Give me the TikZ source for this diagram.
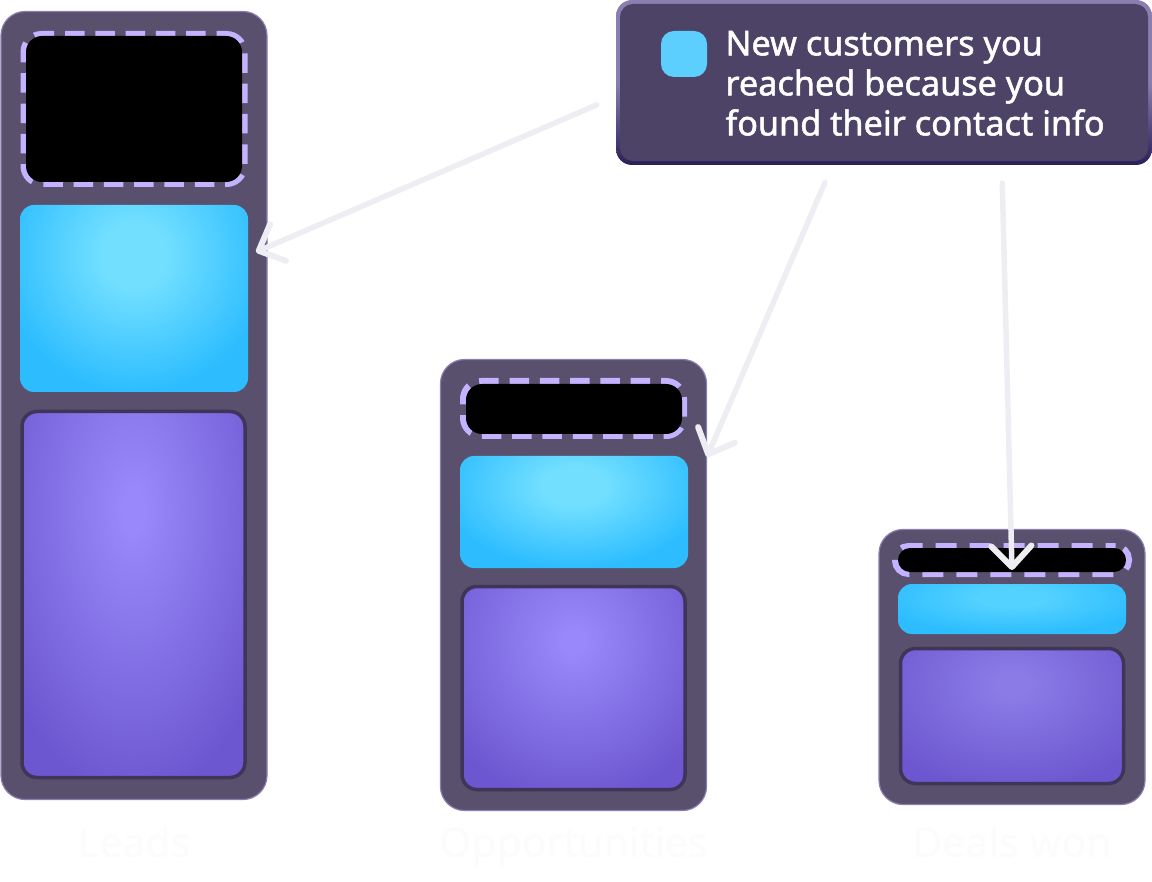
\documentclass[tikz,border=0pt]{standalone}
\usepackage{fontspec}
\setmainfont{Noto Sans}[FakeBold=1.5]
\usetikzlibrary{arrows.meta}
\definecolor{panelfill}{HTML}{59506E}
\definecolor{panelline}{HTML}{8A7EB0}
\definecolor{slotline}{HTML}{C4B2FF}
\definecolor{barline}{HTML}{3F3558}
\definecolor{cyanhi}{HTML}{72DFFF}
\definecolor{cyandim}{HTML}{54D2FF}
\definecolor{cyanlo}{HTML}{2DBDFF}
\definecolor{violethi}{HTML}{9888FB}
\definecolor{violetdim}{HTML}{8A7BE6}
\definecolor{violetlo}{HTML}{6D57D0}
\definecolor{calloutfill}{HTML}{4C4366}
\definecolor{calloutlo}{HTML}{2A1F57}
\definecolor{swatchfill}{HTML}{5CCFFF}
\definecolor{pointerline}{HTML}{EEEDF3}
\definecolor{ghostlabel}{HTML}{FCFCFD}
\pgfdeclareradialshading{cyanglow}{\pgfpointorigin}{color(0bp)=(cyanhi); color(6bp)=(cyanhi); color(25bp)=(cyanlo); color(50bp)=(cyanlo)}
\pgfdeclareradialshading{cyanfaint}{\pgfpointorigin}{color(0bp)=(cyandim); color(6bp)=(cyandim); color(25bp)=(cyanlo); color(50bp)=(cyanlo)}
\pgfdeclareradialshading{violetglow}{\pgfpointorigin}{color(0bp)=(violethi); color(2bp)=(violethi); color(27bp)=(violetlo); color(50bp)=(violetlo)}
\pgfdeclareradialshading{violetfaint}{\pgfpointorigin}{color(0bp)=(violetdim); color(3bp)=(violetdim); color(27bp)=(violetlo); color(50bp)=(violetlo)}
\tikzset{
  block/.style={rectangle, inner sep=0pt, outer sep=0pt},
  panel/.style={block, draw=panelline, line width=1.2pt, fill=panelfill, rounded corners=24pt, minimum width=266pt},
  slot/.style={block, draw=slotline, line width=8pt, dash pattern=on 19.5pt off 10.8pt, rounded corners=17pt, minimum width=219pt},
  gapbar/.style={block, fill=black, rounded corners=16pt, minimum width=216pt},
  glow/.style n args={3}{path picture={\shade[shading=#1] ([xshift=-#3]path picture bounding box.south west) rectangle ([xshift=#3,yshift=#2]path picture bounding box.north east);}},
  reachbar/.style={block, rounded corners=14pt, minimum width=228pt},
  restbar/.style={block, draw=barline, line width=3.5pt, rounded corners=15pt, minimum width=223pt},
  pointer/.style={draw=pointerline, line width=5.5pt, line cap=round, -{Straight Barb[length=21pt,width=40pt,line width=6pt,round]}},
  stagename/.style={anchor=base, text=ghostlabel, font=\fontsize{41}{44}\selectfont},
}
\begin{document}
\begin{tikzpicture}[x=1pt, y=-1pt]
  \useasboundingbox (0,0) rectangle (1152,882);
  %nodes
  \node[panel, minimum height=788pt] at (134,405.5) (leadspanel) {};
  \node[slot, minimum height=148pt, dash phase=9.5pt] at (134,109) (leadsslot) {};
  \node[gapbar, minimum height=146pt] at (134,109) (leadsgap) {};
  \node[reachbar, glow={cyanglow}{86pt}{20pt}, minimum height=187pt] at (134,298.5) (leadsreach) {};
  \node[restbar, glow={violetglow}{168pt}{30pt}, minimum height=366pt] at (133.5,594.5) (leadsrest) {};
  \node[stagename] at (134,857) (leadsname) {Leads};

  \node[panel, minimum height=451pt] at (573.5,585) (opppanel) {};
  \node[slot, minimum height=53pt, dash phase=14.5pt] at (573.5,408.5) (oppslot) {};
  \node[gapbar, minimum height=50pt] at (574,409) (oppgap) {};
  \node[reachbar, glow={cyanglow}{52pt}{20pt}, minimum height=112pt] at (574,512) (oppreach) {};
  \node[restbar, glow={violetglow}{93pt}{30pt}, minimum height=203pt] at (573.5,688) (opprest) {};
  \node[stagename] at (573.5,857) (oppname) {Opportunities};

  \node[panel, minimum height=275pt] at (1012,667) (wonpanel) {};
  \node[slot, minimum width=232pt, minimum height=26pt, rounded corners=12.5pt, dash pattern=on 21pt off 13pt, dash phase=11pt] at (1012,560) (wonslot) {};
  \node[gapbar, minimum width=228pt, minimum height=24pt, rounded corners=12pt] at (1012,560) (wongap) {};
  \node[reachbar, glow={cyanfaint}{23pt}{20pt}, minimum height=50pt] at (1012,609) (wonreach) {};
  \node[restbar, glow={violetfaint}{62pt}{30pt}, minimum height=135pt] at (1012,716) (wonrest) {};
  \node[stagename] at (1012,857) (wonname) {Deals won};

  \node[block, minimum width=536pt, minimum height=165pt, rounded corners=16pt, top color=panelline, bottom color=calloutlo, middle color=panelline] at (884,82.5) (calloutedge) {};
  \node[block, fill=calloutfill, minimum width=528pt, minimum height=157pt, rounded corners=13pt] at (884,82.5) (callout) {};
  \node[block, fill=swatchfill, minimum size=46pt, rounded corners=13pt] at (684,54) (swatch) {};
  \node[block, anchor=north west, align=left, text=white, font=\fontsize{34.2}{40}\selectfont] at (725.5,31) (calloutnote) {New customers you\\reached because you\\found their contact info};

  % arrow ends
  \coordinate (leadstip) at (256,252);
  \coordinate (opptip) at (707,457);
  \coordinate (wontip) at (1012,570);
  % arrows between nodes
  \draw[pointer, shorten <=21pt] (calloutedge.183.5) -- (leadstip);
  \draw[pointer, shorten <=19pt] (calloutedge.238.8) -- (opptip);
  \draw[pointer, shorten <=18pt] (calloutedge.325) -- (wontip);
\end{tikzpicture}
\end{document}
